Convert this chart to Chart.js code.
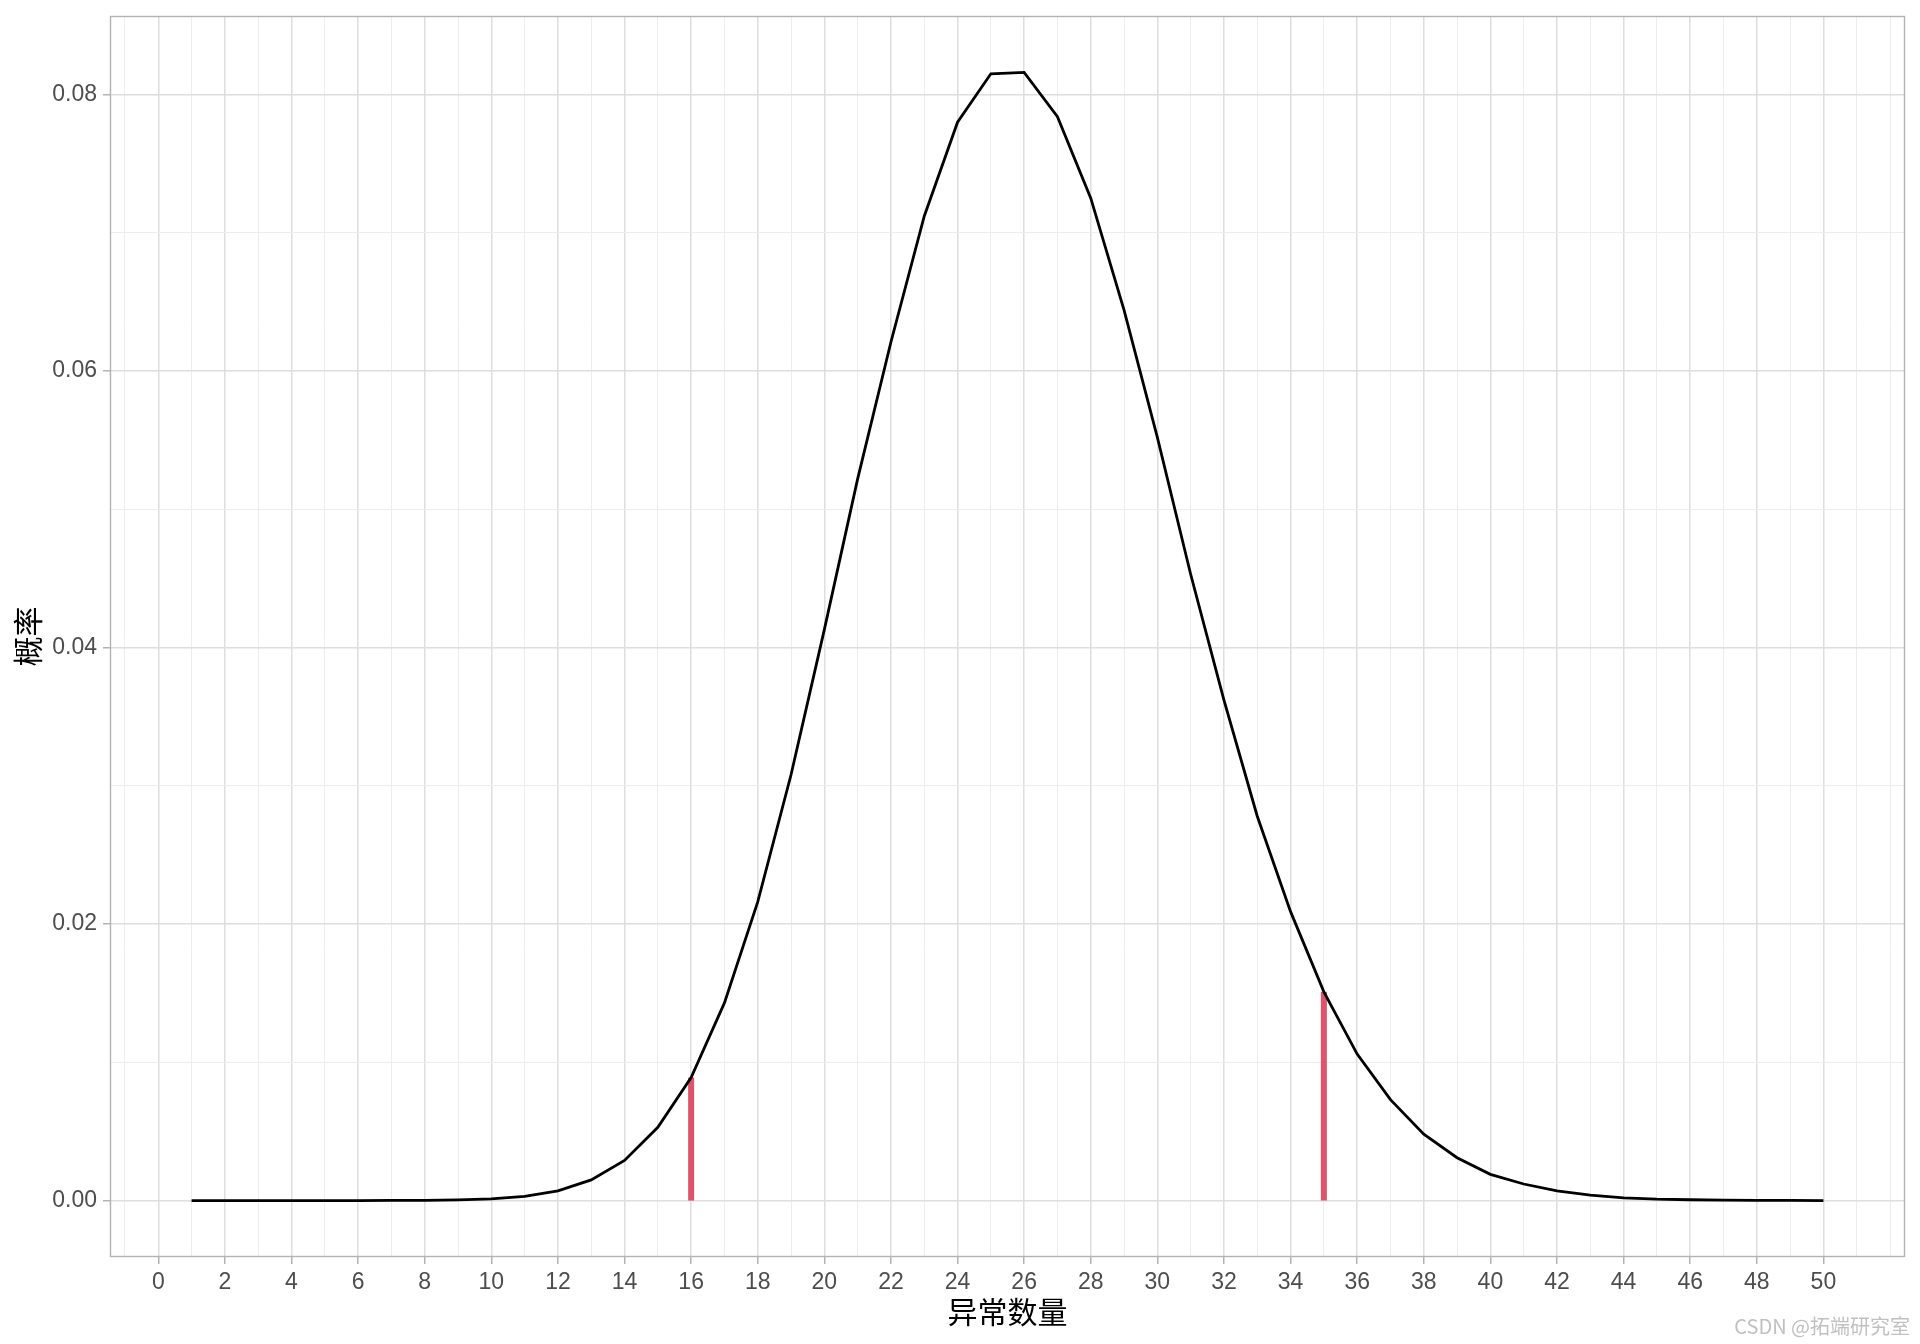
<!DOCTYPE html>
<html>
<head>
<meta charset="utf-8">
<script src="https://cdn.jsdelivr.net/npm/chart.js@4.4.1/dist/chart.umd.min.js"></script>
<style>
  html, body { margin:0; padding:0; background:#fff; }
  #wrap { width:1920px; height:1344px; position:relative; }
</style>
</head>
<body>
<div id="wrap"><canvas id="chart"></canvas></div>
<script>
// anomaly counts (x) and their probability (y)
const counts = [1,2,3,4,5,6,7,8,9,10,11,12,13,14,15,16,17,18,19,20,21,22,23,24,25,
                26,27,28,29,30,31,32,33,34,35,36,37,38,39,40,41,42,43,44,45,46,47,48,49,50];
const probs = [0,0,0,0,0,0,0.00001,0.00002,0.00005,0.00012,0.0003,0.0007,0.0015,0.0029,0.0053,
               0.0089,0.0143,0.0216,0.0308,0.0413,0.0522,0.0621,0.0712,0.0780,0.0815,
               0.0816,0.0784,0.0725,0.0644,0.0552,0.0453,0.0362,0.0278,0.0209,0.0151,
               0.0106,0.0073,0.0048,0.0031,0.0019,0.0012,0.0007,0.0004,0.0002,0.0001,
               0.00006,0.00003,0.00002,0.00001,0];
// critical values marked in red
const critX = [16, 35];
const critY = [0.0089, 0.0151];

// axis ranges (ggplot-style 5% expansion)
const xMin = -1.45, xMax = 52.45;
const yMin = -0.00408, yMax = 0.08568;

const curve = counts.map((c, i) => ({x: c, y: probs[i]}));
const critSets = critX.map((c, i) => ({
  data: [{x: c, y: 0}, {x: c, y: critY[i]}],
  showLine: true, borderColor: '#DF536B', borderWidth: 6,
  pointRadius: 0, order: 2, borderCapStyle: 'butt'
}));

const isEvenX = v => Math.abs(v - Math.round(v)) < 1e-6 && Math.round(v) % 2 === 0 && v >= 0 && v <= 50;
const isMajorY = v => Math.round(v * 100) % 2 === 0;

// panel frame + watermark
const frame = {
  id: 'frame',
  beforeDraw(chart){
    const c = chart.ctx;
    c.save(); c.fillStyle = '#fff'; c.fillRect(0, 0, chart.width, chart.height); c.restore();
  },
  afterDraw(chart){
    const c = chart.ctx, a = chart.chartArea;
    c.save();
    c.strokeStyle = '#B3B3B3'; c.lineWidth = 1.4;
    c.strokeRect(a.left + 0.5, a.top + 0.5, a.right - a.left - 1, a.bottom - a.top - 1);
    c.fillStyle = 'rgba(140,140,140,0.55)';
    c.font = '20px "Noto Sans CJK SC"';
    c.textAlign = 'right'; c.textBaseline = 'middle';
    c.fillText('CSDN @拓端研究室', 1910, 1326);
    c.restore();
  }
};

new Chart(document.getElementById('chart'), {
  type: 'scatter',
  data: {
    datasets: [
      {data: curve, showLine: true, borderColor: '#000', borderWidth: 2.8,
       pointRadius: 0, order: 0, tension: 0, borderJoinStyle: 'miter'},
      ...critSets
    ]
  },
  options: {
    responsive: true, maintainAspectRatio: false, animation: false,
    layout: {padding: {top: 16, right: 15, left: 0, bottom: 0}},
    plugins: {legend: {display: false}, tooltip: {enabled: false}},
    scales: {
      x: {
        type: 'linear', min: xMin, max: xMax,
        afterFit: s => { s.height = 87; s.paddingLeft = 0; s.paddingRight = 0; },
        border: {display: false},
        grid: {
          color: ctx => isEvenX(ctx.tick.value) ? '#DEDEDE' : '#EDEDED',
          lineWidth: ctx => isEvenX(ctx.tick.value) ? 1.5 : 1,
          tickColor: ctx => isEvenX(ctx.tick.value) ? '#B3B3B3' : 'rgba(0,0,0,0)',
          tickLength: 7, tickWidth: 1.5
        },
        ticks: {
          stepSize: 1, includeBounds: false, autoSkip: false, maxRotation: 0,
          padding: 5, color: '#4D4D4D',
          font: {family: 'Liberation Sans', size: 23},
          callback: v => isEvenX(v) ? String(Math.round(v)) : ''
        },
        title: {display: true, text: '异常数量', color: '#000',
                font: {family: 'Noto Sans CJK SC', size: 30, lineHeight: 1.2},
                padding: {top: 0, bottom: 14}}
      },
      y: {
        type: 'linear', min: yMin, max: yMax,
        afterFit: s => { s.width = 110; s.paddingTop = 0; s.paddingBottom = 0; },
        border: {display: false},
        grid: {
          color: ctx => isMajorY(ctx.tick.value) ? '#DEDEDE' : '#EDEDED',
          lineWidth: ctx => isMajorY(ctx.tick.value) ? 1.5 : 1,
          tickColor: ctx => isMajorY(ctx.tick.value) ? '#B3B3B3' : 'rgba(0,0,0,0)',
          tickLength: 7, tickWidth: 1.5
        },
        ticks: {
          stepSize: 0.01, includeBounds: false, autoSkip: false,
          padding: 6, color: '#4D4D4D',
          font: {family: 'Liberation Sans', size: 23},
          callback: v => isMajorY(v) ? v.toFixed(2) : ''
        },
        title: {display: true, text: '概率', color: '#000',
                font: {family: 'Noto Sans CJK SC', size: 30, lineHeight: 1.2},
                padding: {top: 10, bottom: 0}}
      }
    }
  },
  plugins: [frame]
});
</script>
</body>
</html>
